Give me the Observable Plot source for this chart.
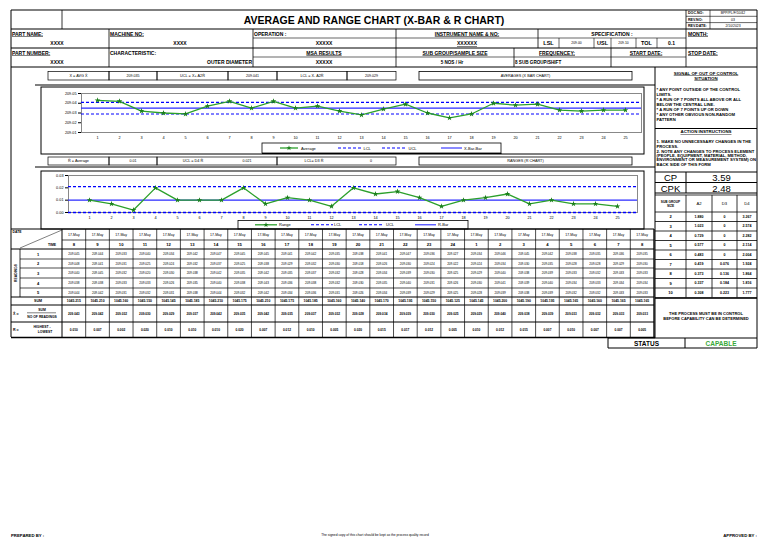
<!DOCTYPE html>
<html><head><meta charset="utf-8">
<script src="https://cdn.jsdelivr.net/npm/d3@7"></script>
<script src="https://cdn.jsdelivr.net/npm/@observablehq/plot@0.6"></script>
<style>
html,body{margin:0;padding:0;background:#fff;}
#root{position:relative;width:768px;height:543px;overflow:hidden;font-family:"Liberation Sans",Arial,sans-serif;}
#root svg.form{position:absolute;left:0;top:0;}
.chart{position:absolute;}
</style></head><body><div id="root"></div><script>
// ---------------- DATA ----------------
const subgroups = [1,2,3,4,5,6,7,8,9,10,11,12,13,14,15,16,17,18,19,20,21,22,23,24,25];
const dates = ["17-May","17-May","17-May","17-May","17-May","17-May","17-May","17-May","17-May","17-May","17-May","17-May","17-May","17-May","17-May","17-May","17-May","17-May","17-May","17-May","17-May","17-May","17-May","17-May","17-May"];
const times = [8,9,10,11,12,13,14,15,16,17,18,19,20,21,22,23,24,1,2,3,4,5,6,7,8];
const reading1 = [209.045,209.044,209.033,209.040,209.034,209.042,209.047,209.045,209.045,209.041,209.042,209.035,209.038,209.041,209.047,209.036,209.027,209.034,209.046,209.045,209.042,209.038,209.035,209.036,209.035];
const reading2 = [209.048,209.041,209.031,209.025,209.024,209.032,209.037,209.025,209.038,209.029,209.032,209.030,209.018,209.026,209.030,209.024,209.022,209.024,209.034,209.030,209.035,209.028,209.028,209.029,209.030];
const reading3 = [209.040,209.045,209.032,209.020,209.030,209.038,209.042,209.035,209.042,209.035,209.037,209.032,209.028,209.034,209.039,209.030,209.025,209.029,209.040,209.038,209.039,209.033,209.032,209.033,209.033];
const reading4 = [209.038,209.038,209.033,209.033,209.026,209.035,209.040,209.038,209.043,209.036,209.038,209.032,209.030,209.035,209.040,209.031,209.026,209.030,209.041,209.039,209.040,209.034,209.033,209.034,209.034];
const reading5 = [209.044,209.042,209.031,209.032,209.031,209.038,209.044,209.032,209.042,209.034,209.036,209.031,209.026,209.034,209.039,209.029,209.025,209.028,209.039,209.038,209.039,209.032,209.032,209.033,209.033];
const sums = [1045.215,1045.210,1045.160,1045.150,1045.145,1045.185,1045.210,1045.175,1045.210,1045.175,1045.185,1045.160,1045.140,1045.170,1045.195,1045.150,1045.125,1045.145,1045.200,1045.190,1045.195,1045.165,1045.160,1045.165,1045.165];
const xbar = [209.043,209.042,209.032,209.030,209.029,209.037,209.042,209.035,209.042,209.035,209.037,209.032,209.028,209.034,209.039,209.030,209.025,209.029,209.040,209.038,209.039,209.033,209.032,209.033,209.033];
const ranges = [0.010,0.007,0.002,0.020,0.010,0.010,0.010,0.020,0.007,0.012,0.010,0.005,0.020,0.015,0.017,0.012,0.005,0.010,0.012,0.015,0.007,0.010,0.007,0.007,0.005];
const xbarbar = 209.035, xUCL = 209.041, xLCL = 209.029;
const rbar = 0.01, rUCL = 0.021, rLCL = 0;
const xTicks = [209.01,209.02,209.03,209.04,209.05];
const rTicks = [0,0.01,0.02,0.03];
const sgSize = [2,3,4,5,6,7,8,9,10];
const A2 = ["1.880","1.023","0.729","0.577","0.483","0.419","0.373","0.337","0.308"];
const D3 = ["0","0","0","0","0","0.076","0.136","0.184","0.223"];
const D4 = ["3.267","2.574","2.282","2.114","2.004","1.924","1.864","1.816","1.777"];
const CP = "3.59", CPK = "2.48";

// ---------------- FORM ----------------
const root = d3.select("#root");
const svg = root.append("svg").attr("class","form").attr("width",768).attr("height",543)
  .style("font-family","'Liberation Sans', Arial, sans-serif");
const G = svg.append("g");
function line(x1,y1,x2,y2,sw=0.8,color="#000",dash=null){
  const l=G.append("line").attr("x1",x1).attr("y1",y1).attr("x2",x2).attr("y2",y2)
   .attr("stroke",color).attr("stroke-width",sw);
  if(dash) l.attr("stroke-dasharray",dash);
  return l;
}
function rect(x,y,w,h,sw=0.8,fill="none"){
  G.append("rect").attr("x",x).attr("y",y).attr("width",w).attr("height",h)
   .attr("fill",fill).attr("stroke","#000").attr("stroke-width",sw);
}
function txt(x,y,s,o={}){
  const t=G.append("text").attr("x",x).attr("y",y).text(s)
   .attr("font-size",o.size||4).attr("text-anchor",o.anchor||"middle")
   .attr("dominant-baseline","central").attr("fill",o.fill||"#000")
   .attr("font-weight",o.weight||"normal");
  if(o.underline) t.attr("text-decoration","underline");
  if(o.rotate) t.attr("transform",`rotate(${o.rotate},${x},${y})`);
  return t;
}

// outer + title row
line(11,10,757,10,1);
line(11,10,11,337,1);
line(757,10,757,348,1);
line(11,29,757,29,1);
line(62,10,62,29);
line(686,10,686,67);
txt(374,20,"AVERAGE AND RANGE CHART (X-BAR & R CHART)",{size:10.5,weight:"bold"});
// doc table
line(710,10,710,29,0.6);
line(686,16.3,757,16.3,0.6); line(686,22.6,757,22.6,0.6);
txt(688,13.2,"DOC.NO:",{size:3.6,anchor:"start",weight:"bold"});
txt(688,19.5,"REV.NO:",{size:3.6,anchor:"start",weight:"bold"});
txt(688,25.8,"REV.DATE:",{size:3.6,anchor:"start",weight:"bold"});
txt(733,13.2,"BPP/PL/F/10/42",{size:3.4});
txt(733,19.5,"03",{size:3.4});
txt(733,25.8,"2/10/2023",{size:3.4});

// header rows
line(11,48,757,48,1); line(11,67,757,67,1);
line(253,38,686,38,0.6); line(253,57,686,57,0.6);
[109,253,396].forEach(x=>line(x,29,x,67));
line(538,29,538,48); line(514,48,514,67); line(611,48,611,67);
[559,594,611,636,657].forEach(x=>line(x,38,x,48,0.6));
const hl={size:5,anchor:"start",weight:"bold",underline:true};
txt(12,33.5,"PART NAME:",hl);
txt(110,33.5,"MACHINE NO:",hl);
txt(254,33.5,"OPERATION :",{size:5,anchor:"start",weight:"bold"});
txt(467,33.5,"INSTRUMENT NAME & NO:",{size:5,weight:"bold",underline:true});
txt(612,33.5,"SPECIFICATION :",{size:5,weight:"bold"});
txt(688,33.5,"MONTH:",hl);
txt(57,43,"XXXX",{size:5,weight:"bold"});
txt(180,43,"XXXX",{size:5,weight:"bold"});
txt(324,43,"XXXXX",{size:5,weight:"bold"});
txt(467,43,"XXXXXX",{size:5,weight:"bold",underline:true});
txt(548.5,43,"LSL",{size:5.5,weight:"bold"});
txt(576.5,43,"209.00",{size:3.4});
txt(602.5,43,"USL",{size:5.5,weight:"bold"});
txt(623.5,43,"209.10",{size:3.4});
txt(646.5,43,"TOL",{size:5.5,weight:"bold"});
txt(671.5,43,"0.1",{size:5,weight:"bold"});
txt(12,52.5,"PART NUMBER:",hl);
txt(110,52.5,"CHARACTERISTIC:",{size:5,anchor:"start",weight:"bold"});
txt(324,52.5,"MSA RESULTS",{size:5,weight:"bold",underline:true});
txt(455,52.5,"SUB GROUP/SAMPLE SIZE",{size:5,weight:"bold",underline:true});
txt(557,52.5,"FREQUENCEY:",{size:5,weight:"bold",underline:true});
txt(646,52.5,"START DATE:",{size:5,weight:"bold",underline:true});
txt(688,52.5,"STOP DATE:",hl);
txt(57,62,"XXXX",{size:5,weight:"bold"});
txt(252,62,"OUTER DIAMETER",{size:5,anchor:"end",weight:"bold"});
txt(324,62,"XXXXX",{size:5,weight:"bold"});
txt(452,62,"5 NOS / Hr",{size:4.6,weight:"bold"});
txt(515,62,"8 SUB GROUP/SHIFT",{size:4.6,anchor:"start",weight:"bold"});

// X-bar stats row
const sb=[48,109,157,228,277,347,396];
for(let i=0;i<6;i++) rect(sb[i],71.5,sb[i+1]-sb[i],8.5,0.7);
txt(78.5,75.8,"X\u033F = AVG X\u0304",{size:3.8});
txt(133,75.8,xbarbar.toFixed(3),{size:3.6});
txt(192.5,75.8,"UCL = X\u033F+ A2R\u0304",{size:3.8});
txt(252.5,75.8,xUCL.toFixed(3),{size:3.6});
txt(312,75.8,"LCL = X\u033F- A2R\u0304",{size:3.8});
txt(371.5,75.8,xLCL.toFixed(3),{size:3.6});
rect(419,71.5,213,8.5,0.8);
txt(525.5,75.8,"AVERAGES  (X BAR CHART)",{size:3.8});
line(35,85,655,85,1);
rect(41,87,603,67,1);
// X-bar legend
rect(262,143,239,10,0.8);
line(262,153.5,501.5,153.5,1.2);
line(280,148,298,148,1.3,"#2ca02c");
G.append("path").attr("d",d3.symbol(d3.symbolStar,9)()).attr("transform","translate(289,148)").attr("fill","#1b7f1b");
txt(301,148,"Average",{size:4,anchor:"start"});
line(338,148,362,148,1.1,"#0000ff","3,2");
txt(363.5,148,"LCL",{size:4,anchor:"start"});
line(382,148,407,148,1.1,"#0000ff","3,2");
txt(408.5,148,"UCL",{size:4,anchor:"start"});
line(441,148,462,148,1.1,"#2a2aff");
txt(464,148,"X-Bar-Bar",{size:4,anchor:"start"});

// R stats row
const rb=[48,109,157,277,396];
for(let i=0;i<4;i++) rect(rb[i],157,rb[i+1]-rb[i],8,0.7);
txt(78.5,161,"R\u0304 = Average",{size:3.8});
txt(133,161,String(rbar),{size:3.6});
txt(193,161,"UCL = D4 R\u0304",{size:3.8});
txt(247,161,rUCL.toFixed(3),{size:3.6});
txt(314,161,"LCL= D3 R\u0304",{size:3.8});
txt(371,161,String(rLCL),{size:3.6});
rect(419,157,213,8,0.8);
txt(525.5,161,"RANGES (R CHART)",{size:3.8});
line(35,167,655,167,1);
rect(41,171,603,58,1);
// R legend
rect(238,220.5,230,8.5,0.8);
line(255,224.8,277,224.8,1.3,"#2ca02c");
G.append("path").attr("d",d3.symbol(d3.symbolStar,9)()).attr("transform","translate(266,224.8)").attr("fill","#1b7f1b");
txt(279,224.8,"Range",{size:4,anchor:"start"});
line(311,224.8,333,224.8,1.1,"#0000ff","3,2");
txt(334,224.8,"LCL",{size:4,anchor:"start"});
line(359,224.8,384,224.8,1.1,"#0000ff","3,2");
txt(386,224.8,"UCL",{size:4,anchor:"start"});
line(415,224.8,436,224.8,1.1,"#2a2aff");
txt(438,224.8,"R-Bar",{size:4,anchor:"start"});

// right panel
line(655,67,655,338,1);
const rs={size:4.2,anchor:"start",weight:"bold"};
txt(706,73,"SIGNAL OF OUT OF CONTROL",{size:4.4,weight:"bold",underline:true});
txt(706,78,"SITUATION",{size:4.4,weight:"bold",underline:true});
[["* ANY POINT OUTSIDE OF THE CONTROL",89.3],["LIMITS.",94],["* A RUN OF 7 POINTS ALL ABOVE OR ALL",99],["BELOW THE CENTRAL LINE.",104],["* A RUN OF 7 POINTS UP OR DOWN",109],["* ANY OTHER OBVIOUS NON-RANDOM",114],["PATTERN",119]]
 .forEach(([s,y])=>txt(656.5,y,s,rs));
line(655,128.5,757,128.5,1);
txt(706,131.5,"ACTION INSTRUCTIONS",{size:4.4,weight:"bold",underline:true});
[["1. MAKE NO UNNECESSARY CHANGES IN THE",141.5],["PROCESS.",146],["2. NOTE ANY CHANGES TO PROCESS ELEMENT",151],["(PEOPLE, EQUIPMENT, MATERIAL, METHOD,",155.3],["ENVIRONMENT OR MEASUREMENT SYSTEM) ON",159.6],["BACK SIDE OF THIS FORM",164]]
 .forEach(([s,y])=>txt(656.5,y,s,rs));
line(655,172,757,172,1); line(655,182.5,757,182.5,1); line(655,193,757,193,1);
line(686,172,686,193,1);
txt(670.5,177.5,"CP",{size:9.5});
txt(670.5,188,"CPK",{size:9.5});
txt(721.5,177.5,CP,{size:9.5});
txt(721.5,188,CPK,{size:9.5});
// constants table
const tTop=195, tHead=212, tRow=9.5;
line(655,tTop,757,tTop,0.8);
line(655,tHead,757,tHead,0.8);
[686,712,737].forEach(x=>line(x,tTop,x,tHead+9*tRow,0.8));
txt(670.5,201.5,"SUB GROUP",{size:3.2,weight:"bold"});
txt(670.5,205.5,"SIZE",{size:3.2,weight:"bold"});
txt(699,203.5,"A2",{size:4.2});
txt(724.5,203.5,"D3",{size:4.2});
txt(747,203.5,"D4",{size:4.2});
sgSize.forEach((n,i)=>{
  const y=tHead+tRow*i+tRow/2;
  line(655,tHead+tRow*(i+1),757,tHead+tRow*(i+1),0.8);
  txt(670.5,y,String(n),{size:4,weight:"bold"});
  txt(699,y,A2[i],{size:3.6,weight:"bold"});
  txt(724.5,y,D3[i],{size:3.6,weight:"bold"});
  txt(747,y,D4[i],{size:3.6,weight:"bold"});
});
line(655,tHead+9*tRow+0.8,757,tHead+9*tRow+0.8,1);
txt(706,313,"THE PROCESS MUST BE IN CONTROL",{size:4,weight:"bold"});
txt(706,318.5,"BEFORE CAPABILITY CAN BE DETERMINED",{size:4,weight:"bold"});
line(608,338,757,338,1); line(608,348,757,348,1.2);
line(608,338,608,348,1); line(685,338,685,348,1);
txt(646.5,343.2,"STATUS",{size:6.5,weight:"bold"});
txt(721,343.2,"CAPABLE",{size:6.5,weight:"bold",fill:"#3aa83a"});

// data table
const tx0=62, tcw=(654-62)/25;
const ry=[229,240,249,259,268,278,288,297,305,322,337];
line(11,229,654,229,1);
line(62,240,654,240,0.7);
line(11,249,654,249,1);
[259,268,278,288].forEach(y=>line(20,y,654,y,0.7));
line(11,297,654,297,1);
line(11,305,654,305,1);
line(11,322,654,322,1);
line(11,337.5,655,337.5,1.6);
line(20,249,20,297,0.8);
line(62,229,62,337,1);
for(let i=1;i<=25;i++) line(tx0+tcw*i,229,tx0+tcw*i,337,0.7);
line(654,229,654,337,1);
line(20,248,62,230,0.5);
txt(12.5,232,"DATE",{size:3.4,anchor:"start",weight:"bold"});
txt(52,245,"TIME",{size:3.4,weight:"bold"});
txt(15.5,273,"READINGS",{size:3.4,weight:"bold",rotate:-90});
["1","2","3","4","5"].forEach((s,i)=>txt(38,(ry[2+i]+ry[3+i])/2,s,{size:4,weight:"bold"}));
txt(38,301,"SUM",{size:3.6,weight:"bold"});
txt(13,313.5,"X\u0304 =",{size:3.6,anchor:"start",weight:"bold"});
txt(42,310.3,"SUM",{size:3.4,weight:"bold"});
line(27,312.8,56,312.8,0.5);
txt(42,316.5,"NO OF READINGS",{size:3.4,weight:"bold"});
txt(13,329.5,"R =",{size:3.6,anchor:"start",weight:"bold"});
txt(42,327,"HIGHEST -",{size:3.4,weight:"bold"});
txt(45,332,"LOWEST",{size:3.4,weight:"bold"});
const readings=[reading1,reading2,reading3,reading4,reading5];
subgroups.forEach((s,i)=>{
  const cx=tx0+tcw*i+tcw/2;
  txt(cx,234.5,dates[i],{size:3.5});
  txt(cx,244.5,String(times[i]),{size:4.2,weight:"bold"});
  readings.forEach((r,k)=>txt(cx,(ry[2+k]+ry[3+k])/2,r[i].toFixed(3),{size:3.1}));
  txt(cx,301,sums[i].toFixed(3),{size:3.4,weight:"bold"});
  txt(cx,313.5,xbar[i].toFixed(3),{size:3.2,weight:"bold"});
  txt(cx,329.5,ranges[i].toFixed(3),{size:3.2,weight:"bold"});
});

// footer
txt(11,535,"PREPARED BY :",{size:4.3,anchor:"start",weight:"bold"});
txt(375,535,"The signed copy of this chart should be kept as the process quality record",{size:3.3});
txt(757,535,"APPROVED BY :",{size:4.3,anchor:"end",weight:"bold"});

// ---------------- CHARTS (Plot) ----------------
const xbarData = subgroups.map((s,i)=>({sg:s, v:xbar[i]}));
const rangeData = subgroups.map((s,i)=>({sg:s, v:ranges[i]}));
const green="#2ca02c", marker="#1b7f1b", blue="#0000ff";
const chartStyle={background:"transparent",fontFamily:"'Liberation Sans', Arial, sans-serif",fontSize:"4px",color:"#000",overflow:"visible"};

const chart1 = Plot.plot({
  width:603, height:56, marginLeft:40, marginRight:3, marginTop:7, marginBottom:10,
  style:chartStyle,
  x:{type:"point", domain:subgroups, padding:0.5, label:null},
  y:{domain:[209.01,209.05], label:null},
  marks:[
    Plot.frame({stroke:"#888", strokeWidth:1}),
    Plot.ruleY([xUCL],{stroke:blue, strokeWidth:1.2, strokeDasharray:"3,2"}),
    Plot.ruleY([xLCL],{stroke:blue, strokeWidth:1.2, strokeDasharray:"3,2"}),
    Plot.ruleY([xbarbar],{stroke:"#2a2aff", strokeWidth:1.2}),
    Plot.line(xbarData,{x:"sg", y:"v", stroke:green, strokeWidth:1.3}),
    Plot.dot(xbarData,{x:"sg", y:"v", symbol:"star", r:1.8, fill:marker, stroke:null}),
    Plot.axisX({tickSize:0, tickPadding:4, fontSize:3.8}),
    Plot.axisY(xTicks,{tickSize:3, tickPadding:2, fontSize:3.8, tickFormat:d=>d.toFixed(2)})
  ]
});
const chart2 = Plot.plot({
  width:603, height:54, marginLeft:27, marginRight:7, marginTop:6, marginBottom:11,
  style:chartStyle,
  x:{type:"point", domain:subgroups, padding:0.5, label:null},
  y:{domain:[0,0.03], label:null},
  marks:[
    Plot.frame({stroke:"#888", strokeWidth:1}),
    Plot.ruleY([rUCL],{stroke:blue, strokeWidth:1.2, strokeDasharray:"3,2"}),
    Plot.ruleY([rLCL],{stroke:blue, strokeWidth:1.4, strokeDasharray:"3,2"}),
    Plot.ruleY([rbar],{stroke:"#2a2aff", strokeWidth:1.2}),
    Plot.line(rangeData,{x:"sg", y:"v", stroke:green, strokeWidth:1.3}),
    Plot.dot(rangeData,{x:"sg", y:"v", symbol:"star", r:1.8, fill:marker, stroke:null}),
    Plot.axisX({tickSize:0, tickPadding:4, fontSize:3.8}),
    Plot.axisY(rTicks,{tickSize:3, tickPadding:2, fontSize:3.8, tickFormat:d=>d.toFixed(2)})
  ]
});
function place(el,x,y){
  const d=root.append("div").attr("class","chart").style("left",x+"px").style("top",y+"px");
  d.node().appendChild(el);
}
place(chart1,41,86);
place(chart2,41,169);
</script></body></html>
